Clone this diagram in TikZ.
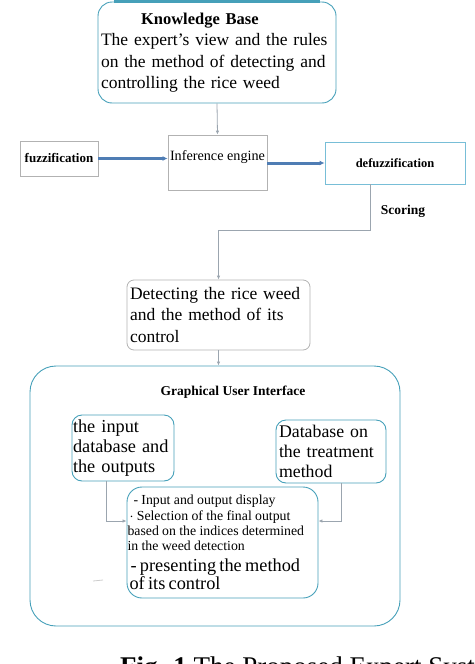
\documentclass[tikz,border=0pt]{standalone}
\usepackage{fontspec}
\setmainfont{Liberation Serif}
\usetikzlibrary{positioning,arrows.meta}
\definecolor{tealb}{RGB}{70,160,185}
\definecolor{lightb}{RGB}{120,190,215}
\definecolor{arrb}{RGB}{79,125,180}
\definecolor{lnkg}{RGB}{155,165,175}
\tikzset{rbox/.style={draw=tealb,line width=0.9pt,rounded corners=14pt,inner sep=3pt},
sbox/.style={draw=gray!60,line width=0.8pt,inner sep=2pt},
fat/.style={-{Latex[length=5pt,width=5pt]},draw=arrb,fill=arrb,line width=3pt},
lnk/.style={-{Latex[length=4pt,width=3.5pt]},draw=lnkg,line width=0.8pt}}

\begin{document}
\begin{tikzpicture}[x=1pt,y=-1pt,big/.style={font=\fontsize{17.5}{21.5}\selectfont},small/.style={font=\fontsize{12.5}{14}\selectfont\bfseries}]
		\useasboundingbox (0,0) rectangle (474,664);
		\clip (0,0) rectangle (474,664);

		\node[rbox,big,minimum width=238,minimum height=101,text width=232,align=left,inner sep=2pt] (kb) at (217,52.5) {\hspace*{40pt}{\fontsize{16.5}{21.5}\selectfont\bfseries Knowledge Base}\\The expert's view and the rules\\on the method of detecting and\\controlling the rice weed};
		\draw[tealb,line width=2.5pt] ([xshift=16pt]kb.north west) -- ([xshift=-16pt]kb.north east);

		\node[sbox,small,font=\fontsize{13}{14}\selectfont\bfseries,minimum width=78,minimum height=35] (fuzz) at (59,158.5) {fuzzification};
		\node[sbox,font=\fontsize{14.2}{16}\selectfont,minimum width=99,minimum height=55,text depth=14pt,inner sep=1pt] (inf) at (217.5,162.5) {Inference engine};
		\node[draw=lightb,line width=0.9pt,small,minimum width=140,minimum height=42] (defuzz) at (395,163) {defuzzification};
		\node[small,font=\fontsize{13.5}{14}\selectfont\bfseries] (sc) at (403,211) {Scoring};

		\node[sbox,big,rounded corners=7pt,minimum width=183,minimum height=70,text width=177,align=left,inner sep=2pt] (det) at (218.5,315) {Detecting the rice weed\\and the method of its\\control};

		\node[rbox,rounded corners=26pt,minimum width=370,minimum height=260] (gui) at (215,496) {};
		\node[small,font=\fontsize{13.5}{14}\selectfont\bfseries] (gt) at (233,392) {Graphical User Interface};

		\node[rbox,font=\fontsize{18.3}{20}\selectfont,rounded corners=10pt,minimum width=102,minimum height=66,text width=100,align=left,inner sep=1pt] (indb) at (123,448) {the input\\database and\\the outputs};
		\node[rbox,font=\fontsize{17.8}{20}\selectfont,rounded corners=10pt,minimum width=110,minimum height=63,text width=104,align=left,inner sep=1pt] (trdb) at (331,451.5) {Database on\\the treatment\\method};
		\node[rbox,rounded corners=15pt,minimum width=191,minimum height=111,text width=190,align=left,inner sep=0.5pt] (ctr) at (222.5,542.5) {{\fontsize{13.8}{15.3}\selectfont\hspace*{6pt}- Input and output display\\\hspace*{2pt}$\cdot$ Selection of the final output\\based on the indices determined\\in the weed detection\\}{\fontsize{18.3}{21}\selectfont\hspace*{3pt}- presenting the method\\\hspace*{2pt}of its control}};

		\node[anchor=north west,inner sep=0pt,font=\fontsize{27}{29}\selectfont] (cap) at (120,656.5) {\textbf{Fig. 1} The Proposed Expert System};

		\coordinate (s1) at (370,230);
		\coordinate (jl) at (106,521);
		\coordinate (jr) at (341,521);

		\draw[lnk] (kb.south) -- (inf.north);
		\draw[fat] (fuzz.east) -- (fuzz.east -| inf.west);
		\draw[fat] (inf.east |- defuzz.west) -- (defuzz.west);
		\draw[lnk] (defuzz.south -| s1) -- (s1) -| (det.north);
		\draw[lnk] (det.south) -- (det.south |- gui.north);
		\draw[lnk] (indb.south -| jl) |- (ctr.west |- jl);
		\draw[lnk] (trdb.south -| jr) |- (ctr.east |- jr);
		\draw[gray!40,line width=0.8pt] (93,581) -- (103,580);
	\end{tikzpicture}
\end{document}
